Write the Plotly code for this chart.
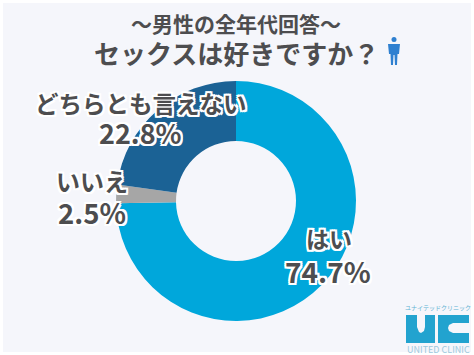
import plotly.graph_objects as go

categories = ["はい", "いいえ", "どちらとも言えない"]
values = [74.7, 2.5, 22.8]
colors = ["#00a7db", "#a6a6a6", "#1b6295"]
W, H = 474, 355
FONT = "Noto Sans CJK JP"
INK = "#4d4d4f"
HALO = "-2px -2px 0 #fff,2px -2px 0 #fff,-2px 2px 0 #fff,2px 2px 0 #fff,0 2px 0 #fff,0 -2px 0 #fff,2px 0 0 #fff,-2px 0 0 #fff"

cx, cy, r = 236, 201, 120
fig = go.Figure(go.Pie(
    labels=categories, values=values, hole=0.5, sort=False, direction="clockwise",
    rotation=0, marker=dict(colors=colors, line=dict(width=0)), textinfo="none",
    hoverinfo="skip", showlegend=False,
    domain=dict(x=[(cx - r) / W, (cx + r) / W], y=[1 - (cy + r) / H, 1 - (cy - r) / H]),
))

def px(x): return x / W
def py(y): return 1 - y / H

def txt(x, y, s, size, color=INK, halo=False, bold=True):
    fig.add_annotation(x=px(x), y=py(y), xref="paper", yref="paper",
                       text=f"<b>{s}</b>" if bold else s,
                       showarrow=False, xanchor="center", yanchor="middle",
                       font=dict(family=FONT, size=size, color=color, shadow=HALO if halo else "none"))

txt(236, 23, "～男性の全年代回答～", 21)
txt(236, 52, "セックスは好きですか？", 26)
txt(141, 103, "どちらとも言えない", 23.5, halo=True)
txt(140, 133, "22.8%", 27, halo=True)
txt(92, 180, "いいえ", 24, halo=True)
txt(92, 212, "2.5%", 27.5, halo=True)
txt(329, 238, "はい", 23, halo=True)
txt(328, 271, "74.7%", 28, halo=True)
txt(438, 307, "ユナイテッドクリニック", 6, color="#5fb3d3", bold=False)
txt(438, 349, "UNITED CLINIC", 9, color="#9cc9dd", bold=False)

def rect(x0, y0, x1, y1, color):
    return dict(type="rect", xref="paper", yref="paper", x0=px(x0), x1=px(x1),
                y0=py(y0), y1=py(y1), fillcolor=color, line_width=0, layer="below")

def path(points, color, layer="above"):
    d = "M" + " L".join(f"{px(a):.5f},{py(b):.5f}" for a, b in points) + " Z"
    return dict(type="path", xref="paper", yref="paper", path=d, fillcolor=color, line_width=0, layer=layer)

BLUE = "#2f80d0"
LOGO = "#22a3cf"
shapes = [
    rect(3, 3, 471, 352, "#f5f6fb"),
    dict(type="circle", xref="paper", yref="paper", x0=px(391.5), x1=px(396.5), y0=py(42), y1=py(37), fillcolor=BLUE, line_width=0),
    path([(388, 44), (400, 44), (399, 54), (397.5, 54), (397, 65), (395, 65), (394.5, 55), (393.5, 55), (393, 65), (391, 65), (390.5, 54), (389, 54)], BLUE),
    # logo U
    path([(406, 315), (417, 315), (417, 327), (419, 332), (421, 333), (424, 331), (425, 327), (425, 315), (435, 315), (435, 343), (406, 343)], LOGO),
    # logo C
    path([(469, 315), (469, 323), (453, 323), (449, 325), (448, 328), (449, 331), (453, 333), (469, 333), (469, 343), (438, 343), (438, 315)], LOGO),
]
fig.update_layout(width=W, height=H, margin=dict(l=0, r=0, t=0, b=0), paper_bgcolor="#ffffff",
                  plot_bgcolor="#ffffff", shapes=shapes)
fig.write_html("out.html", config=dict(displayModeBar=False),
               post_script="document.body.style.margin='0';document.documentElement.style.overflow='hidden';")
